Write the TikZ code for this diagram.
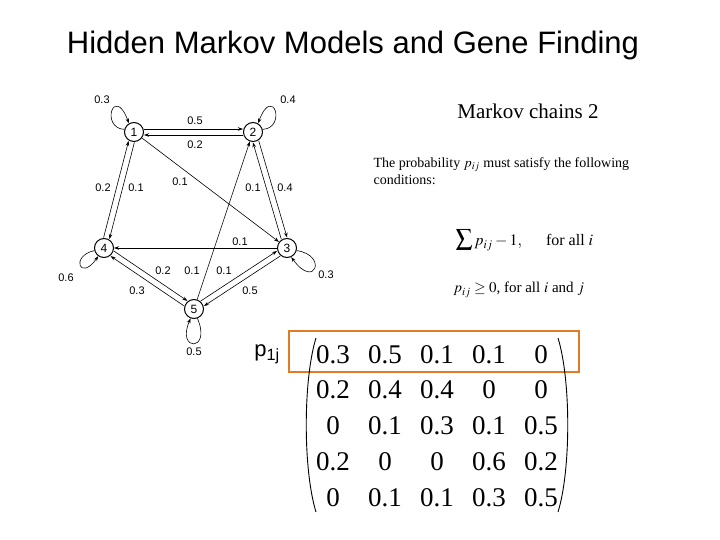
\documentclass[tikz,border=0pt]{standalone}
\usepackage{mathptmx}
\usepackage{fontspec}
\setmainfont{Liberation Serif}
\newfontfamily\arial{Liberation Sans}
\usetikzlibrary{calc,arrows.meta}
\definecolor{boxorange}{RGB}{226,122,38}
\begin{document}
\begin{tikzpicture}[x=1pt,y=-1pt,
  st/.style={circle,draw,line width=1pt,minimum size=19pt,inner sep=0pt,font=\arial\fontsize{12}{14}\selectfont},
  arr/.style={-{Stealth[length=5pt,width=3.5pt]},line width=0.6pt},
  lb/.style={font=\arial\fontsize{11}{13}\selectfont,inner sep=0pt},
  ent/.style={font=\fontsize{27}{30}\selectfont,inner sep=0pt,anchor=base}]
\useasboundingbox (0,0) rectangle (720,540);
\node[font=\arial\fontsize{31}{36}\selectfont] (title) at (353,45) {Hidden Markov Models and Gene Finding};
% states
\node[st] (n1) at (134,132) {1};
\node[st] (n2) at (253,132) {2};
\node[st] (n3) at (287,248) {3};
\node[st] (n4) at (104,248) {4};
\node[st] (n5) at (194,309) {5};
\newcommand{\dedge}[4]{\draw[arr] ($(#1)!10pt!(#2)+(#3,#4)$) -- ($(#2)!10pt!(#1)+(#3,#4)$);}
\dedge{n1}{n2}{0}{-3}
\dedge{n2}{n1}{0}{3}
\dedge{n1}{n4}{2.9}{0.75}
\dedge{n4}{n1}{-2.9}{-0.75}
\dedge{n2}{n3}{2.9}{-0.84}
\dedge{n3}{n2}{-2.9}{0.84}
\dedge{n4}{n5}{1.7}{-2.5}
\dedge{n5}{n4}{-1.7}{2.5}
\dedge{n5}{n3}{-1.65}{-2.5}
\dedge{n3}{n5}{1.65}{2.5}
\draw[arr] (n1) -- (n3);
\draw[arr] (n3) -- (n4);
\draw[arr] (n5) -- (n2);
% loops
\draw[arr] (n1.165) .. controls (100,128) and (114,84) .. (n1.120);
\draw[arr] (n2.15) .. controls (287,128) and (273,84) .. (n2.60);
\draw[arr] (n4.195) .. controls (70,256) and (80,282) .. (n4.235);
\draw[arr] (n3.345) .. controls (328,255) and (315,290) .. (n3.295);
\draw[arr] (n5.290) .. controls (212,352) and (176,352) .. (n5.250);
% labels
\node[lb] (l1) at (102,100) {0.3};
\node[lb] (l2) at (288,100) {0.4};
\node[lb] (l3) at (195,121) {0.5};
\node[lb] (l4) at (195,145) {0.2};
\node[lb] (l5) at (103,188) {0.2};
\node[lb] (l6) at (136,188) {0.1};
\node[lb] (l7) at (180,182) {0.1};
\node[lb] (l8) at (253,188) {0.1};
\node[lb] (l9) at (285,188) {0.4};
\node[lb] (l10) at (240,242) {0.1};
\node[lb] (l11) at (66,278) {0.6};
\node[lb] (l12) at (326,275) {0.3};
\node[lb] (l13) at (163,271) {0.2};
\node[lb] (l14) at (192,271) {0.1};
\node[lb] (l15) at (224,271) {0.1};
\node[lb] (l16) at (137,291) {0.3};
\node[lb] (l17) at (250,291) {0.5};
\node[lb] (l18) at (194,352) {0.5};
% conditions
\node[font=\fontsize{21}{24}\selectfont] (mc) at (528,111) {Markov chains 2};
\node[anchor=west,align=left,font=\fontsize{14}{17}\selectfont] (cond) at (370,171) {The probability $p_{ij}$ must satisfy the following\\conditions:};
\node[anchor=west,font=\fontsize{16}{19}\selectfont] (sum) at (452,240) {$\displaystyle{\textstyle\scalebox{1.5}{$\sum$}}\, p_{ij} - 1,$\hspace{1.5em}for all $i$};
\node[anchor=west,font=\fontsize{15}{18}\selectfont] (pos) at (450,290) {$p_{ij} \geq 0$, for all $i$ and $j$};
% matrix
\node[font=\arial\fontsize{22}{24}\selectfont] (p1j) at (267,354) {p\textsubscript{1j}};
\draw[boxorange,line width=2.5pt] (289,331) rectangle (579,372);
\draw[line width=0.9pt] (316,338) .. controls (303,380) and (303,470) .. (316,512);
\draw[line width=0.9pt] (558,338) .. controls (571,380) and (571,470) .. (558,512);
\foreach \r [count=\i] in {{0.3,0.5,0.1,0.1,0},{0.2,0.4,0.4,0,0},{0,0.1,0.3,0.1,0.5},{0.2,0,0,0.6,0.2},{0,0.1,0.1,0.3,0.5}}{
  \foreach \v [count=\j] in \r {
    \node[ent] (m\i\j) at ({333+52*(\j-1)},{363+35.8*(\i-1)}) {\v};
  }
}
\end{tikzpicture}
\end{document}
